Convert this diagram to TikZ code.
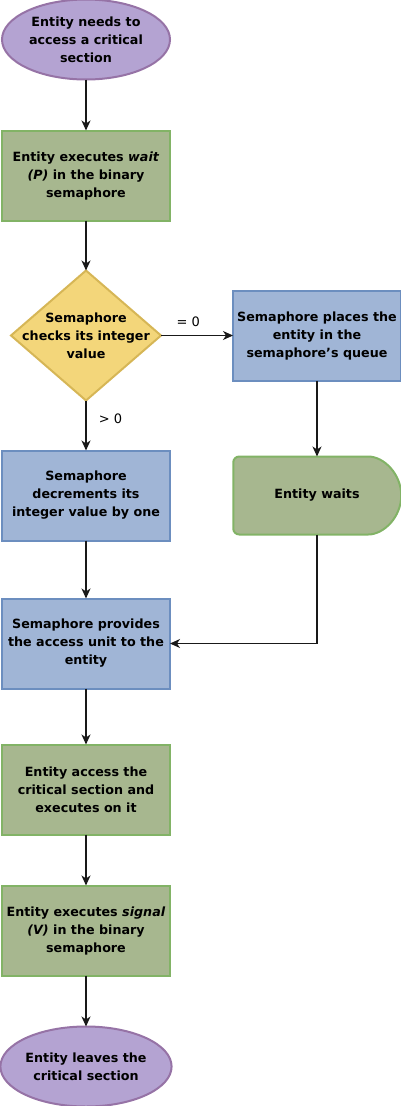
\documentclass[tikz,border=0pt]{standalone}
\usepackage{fontspec}
\setmainfont{DejaVu Sans}
\usetikzlibrary{positioning, arrows.meta, shapes.geometric, shapes.misc}

\definecolor{purplefill}{HTML}{B4A3D2}
\definecolor{purpleline}{HTML}{9673A6}
\definecolor{greenfill}{HTML}{A7B78F}
\definecolor{greenline}{HTML}{82B366}
\definecolor{bluefill}{HTML}{A0B5D6}
\definecolor{blueline}{HTML}{6C8EBF}
\definecolor{yellowfill}{HTML}{F3D67A}
\definecolor{yellowline}{HTML}{D6B656}

\tikzset{
    base/.style={draw, line width=2pt, align=center, text=black, inner sep=0pt, outer sep=0pt,
      font=\bfseries\fontsize{12.7}{18}\selectfont},
    terminal/.style={base, ellipse, draw=purpleline, fill=purplefill,
      minimum width=168pt, minimum height=80pt},
    process/.style={base, rectangle, minimum width=168pt, minimum height=90pt},
    greenbox/.style={process, draw=greenline, fill=greenfill},
    bluebox/.style={process, draw=blueline, fill=bluefill},
    decision/.style={base, diamond, draw=yellowline, fill=yellowfill,
      minimum width=150pt, minimum height=130pt},
    delaybox/.style={base, rounded rectangle, rounded rectangle left arc=none,
      rounded corners=6pt, draw=greenline, fill=greenfill,
      minimum width=168pt, minimum height=78pt},
    arr/.style={-{Stealth[length=10pt, width=9pt, inset=3pt]}, line width=1.3pt, draw=black!90},
    cond/.style={font=\fontsize{13}{15}\selectfont},
}

\begin{document}
\begin{tikzpicture}[x=1pt, y=1pt]
    \useasboundingbox (0,0) rectangle (401,-1106);

    \node[terminal] (start) at (86,-39.5) {Entity needs to\\access a critical\\section};
    \node[greenbox, below=51pt of start] (waitp) {Entity executes \textit{wait}\\\textit{(P)} in the binary\\semaphore};
    \node[decision, below=50pt of waitp] (check) {};
    \node[base, draw=none, fill=none] (checktxt) at (check) {Semaphore\\checks its integer\\value};
    \node[bluebox, right=72pt of check] (queue) {Semaphore places the\\entity in the\\semaphore's queue};
    \node[delaybox, below=76pt of queue] (wait) {Entity waits};
    \node[bluebox, below=50pt of check] (dec) {Semaphore\\decrements its\\integer value by one};
    \node[bluebox, below=58pt of dec] (grant) {Semaphore provides\\the access unit to the\\entity};
    \node[greenbox, below=56pt of grant] (crit) {Entity access the\\critical section and\\executes on it};
    \node[greenbox, below=51pt of crit] (signalv) {Entity executes \textit{signal}\\\textit{(V)} in the binary\\semaphore};
    \node[terminal, below=51pt of signalv] (leave) {Entity leaves the\\critical section};

    \draw (start) edge[arr] (waitp);
    \draw (waitp) edge[arr] (check);
    \draw (check) edge[arr] node[cond, pos=0.38, above=5pt] (eqzero) {= 0} (queue);
    \draw (check) edge[arr] node[cond, pos=0.36, right=9pt] (gtzero) {> 0} (dec);
    \draw (queue) edge[arr] (wait);
    \draw[arr] (wait) |- (grant);
    \draw (dec) edge[arr] (grant);
    \draw (grant) edge[arr] (crit);
    \draw (crit) edge[arr] (signalv);
    \draw (signalv) edge[arr] (leave);
\end{tikzpicture}
\end{document}
